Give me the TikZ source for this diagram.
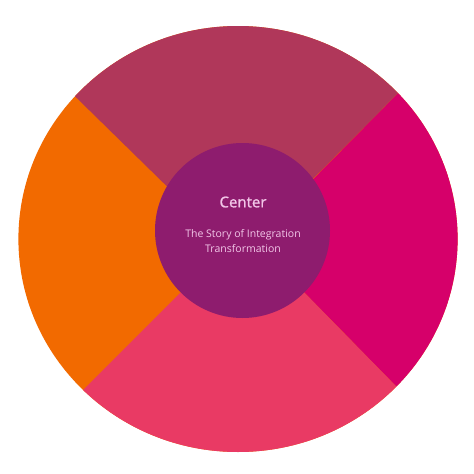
\documentclass[tikz,border=0pt]{standalone}
\usepackage{fontspec}
\setmainfont{Open Sans}
\newfontfamily\titlefont{Open Sans}[FakeBold=1.2]
\definecolor{topc}{HTML}{B0375A}
\definecolor{rightc}{HTML}{D6006A}
\definecolor{bottomc}{HTML}{E93A64}
\definecolor{leftc}{HTML}{F26A00}
\definecolor{hubc}{HTML}{8E1C6E}
\definecolor{txtc}{HTML}{F2C6E8}
\tikzset{
  hubstyle/.style={circle, fill=hubc, minimum size=175pt, inner sep=0pt},
  titlestyle/.style={text=txtc, font=\titlefont\fontsize{15}{18}\selectfont, inner sep=0pt},
  substyle/.style={text=txtc, font=\fontsize{10.5}{15}\selectfont, align=center, inner sep=0pt}
}
\begin{document}
\begin{tikzpicture}[x=1pt,y=-1pt]
\useasboundingbox (0,0) rectangle (474,474);
\fill[white] (0,0) rectangle (474,474);
\fill[leftc] (238,239) ellipse [x radius=219.6, y radius=213];
\begin{scope}
\clip (238,239) ellipse [x radius=219.6, y radius=213];
\fill[topc] (40,62) -- (237,255) -- (429,62) -- (429,-10) -- (40,-10) -- cycle;
\fill[rightc] (429,62) -- (253,240) -- (437,428) -- (490,428) -- (490,62) -- cycle;
\fill[bottomc] (43,430) -- (243,230) -- (437,428) -- (437,480) -- (43,480) -- cycle;
\end{scope}
\node[hubstyle] (hub) at (242.5,230.5) {};
\node[titlestyle] (title) at (243,202) {Center};
\node[substyle] (sub) at (243,241.5) {The Story of Integration\\Transformation};
\end{tikzpicture}
\end{document}
